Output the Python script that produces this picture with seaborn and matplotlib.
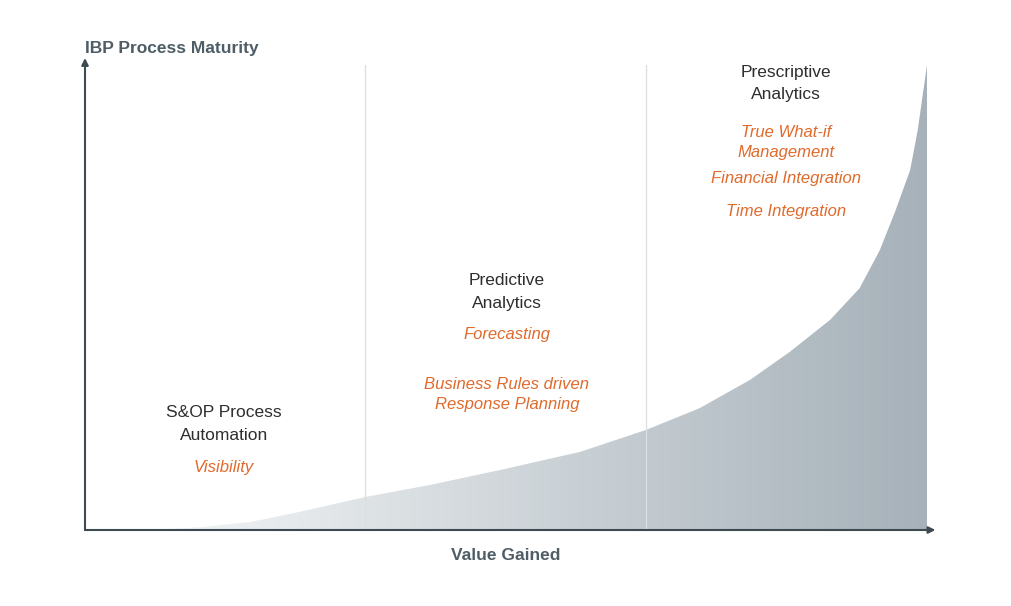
import numpy as np
import matplotlib
matplotlib.use("Agg")
import matplotlib.pyplot as plt
import seaborn as sns
from matplotlib.colors import LinearSegmentedColormap

sns.set_theme(style="white")
plt.rcParams['font.family'] = ['Liberation Sans', 'DejaVu Sans']

# curve (x: value gained, y: maturity, 0-100)
curve_x = [7.7, 13.7, 19.6, 25.5, 33.3, 41.0, 49.3, 58.8, 66.6, 73.0, 79.0, 83.7, 88.5, 92.0, 94.4, 96.2, 98.0, 98.9, 100.0]
curve_y = [0.0, 0.6, 1.7, 3.9, 7.1, 9.7, 12.9, 16.8, 21.5, 26.2, 32.3, 38.3, 45.2, 52.0, 60.2, 68.4, 77.4, 86.0, 100.0]
dividers = [33.3, 66.6]

stages = ["S&OP Process\nAutomation", "Predictive\nAnalytics", "Prescriptive\nAnalytics"]
stage_pos = [(16.5, 26.8), (50.1, 55.2), (83.3, 100.1)]
features = ["Visibility", "Forecasting", "Business Rules driven\nResponse Planning",
            "True What-if\nManagement", "Financial Integration", "Time Integration"]
feature_pos = [(16.5, 15.1), (50.1, 43.6), (50.1, 33.0), (83.3, 87.2), (83.3, 77.3), (83.3, 70.2)]

fig = plt.figure(figsize=(10.11, 6.06), dpi=100)
ax = fig.add_axes([85/1011, 76/606, 842/1011, 465/606])
ax.set_xlim(0, 100)
ax.set_ylim(0, 100)
ax.axis("off")

cmap = LinearSegmentedColormap.from_list("g", ["#f4f6f7", "#a6b1b9"])
grad = np.linspace(0, 1, 256).reshape(1, -1)
img = ax.imshow(grad, extent=[curve_x[0], 100, 0, 100], aspect="auto", cmap=cmap, zorder=1)
poly = ax.fill_between(curve_x, 0, curve_y, color="none", lw=0)
path = poly.get_paths()[0]
img.set_clip_path(path, transform=ax.transData)

for d in dividers:
    ax.plot([d, d], [0, 100], color="#dcdfe1", lw=0.9, zorder=2)

for tip in [(0, 101.5), (101, 0)]:
    ax.annotate("", xy=tip, xytext=(0, 0), annotation_clip=False,
                arrowprops=dict(arrowstyle="-|>", color="#3d4a52", lw=1.5, mutation_scale=10,
                                shrinkA=0, shrinkB=0), zorder=4)

for s, (x, y) in zip(stages, stage_pos):
    ax.text(x, y, s, ha="center", va="top", fontsize=12.5, color="#2e2e2e", linespacing=1.65, zorder=5)
for f, (x, y) in zip(features, feature_pos):
    ax.text(x, y, f, ha="center", va="top", fontsize=12, color="#e06a2c", style="italic",
            linespacing=1.45, zorder=5)

fig.text(85/1011, 1 - 48/606, "IBP Process Maturity", ha="left", va="center",
         fontsize=12.5, fontweight="bold", color="#4f5d66")
fig.text(506/1011, 1 - 556/606, "Value Gained", ha="center", va="center",
         fontsize=12.5, fontweight="bold", color="#4f5d66")

fig.savefig("out.png", dpi=100, facecolor="white")
